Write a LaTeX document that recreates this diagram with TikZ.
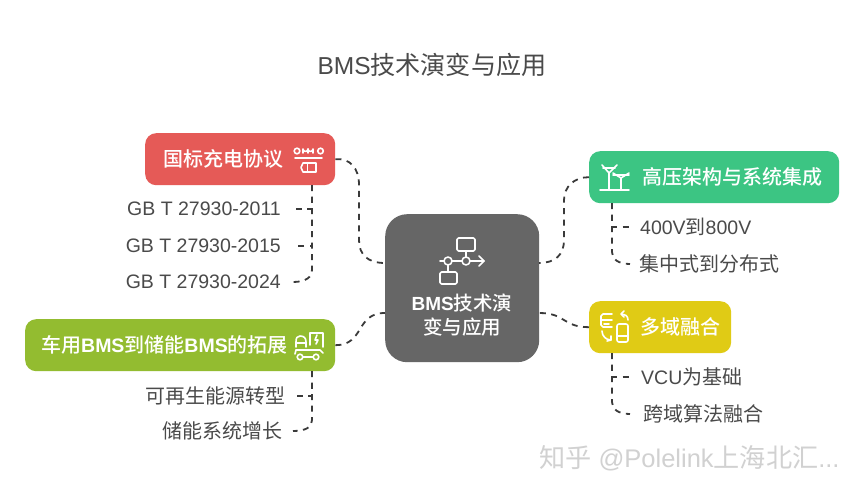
\documentclass[tikz,border=0pt]{standalone}
\usepackage{fontspec}
\setmainfont{Liberation Sans}
\newfontfamily\cjk[Scale=1.025,BoldFont={Noto Sans CJK SC Medium}]{Noto Sans CJK SC}
\usetikzlibrary{calc}
\definecolor{redbox}{HTML}{E55A57}
\definecolor{greenbox}{HTML}{3CC583}
\definecolor{yellowbox}{HTML}{E0CB15}
\definecolor{olivebox}{HTML}{93BC30}
\definecolor{greybox}{HTML}{666666}
\definecolor{inktext}{HTML}{4A4A4A}
\definecolor{inkline}{HTML}{3A3A3A}
\tikzset{
	boxstyle/.style={rectangle,rounded corners=11,anchor=north west,inner sep=0},
	boxtext/.style={text=white,font=\fontsize{19.5}{23}\selectfont\bfseries,inner sep=0},
	childstyle/.style={text=inktext,font=\fontsize{19.5}{24}\selectfont,inner sep=0},
	linkstyle/.style={draw=inkline,line width=1.8,dash pattern=on 6 off 5.5},
	iconstyle/.style={draw=white,line width=1.6,line cap=round,line join=round}
}
\begin{document}
\begin{tikzpicture}[x=1pt,y=-1pt]
	\useasboundingbox[fill=white] (0,0) rectangle (864,492);
	\node[text=inktext,font=\fontsize{24.500}{28}\selectfont,inner sep=0] (title) at (432,65) {BMS{\cjk 技术演变与应用}};
	\node[boxstyle,fill=greybox,rounded corners=22,minimum width=154,minimum height=148] (bms) at (385,214) {};
	\node[boxtext,align=center,font=\fontsize{19}{24}\selectfont\bfseries] (bmstext) at (462,315) {BMS{\cjk 技术演}\\{\cjk 变与应用}};
	\node[boxstyle,fill=redbox,minimum width=190,minimum height=52] (std) at (145,133) {};
	\node[boxtext,anchor=west] (stdtext) at (163,159) {\cjk 国标充电协议};
	\node[boxstyle,fill=olivebox,minimum width=310,minimum height=52] (ext) at (25,319) {};
	\node[boxtext,anchor=west] (exttext) at (41,345) {\cjk 车用{\rmfamily BMS}到储能{\rmfamily BMS}的拓展};
	\node[boxstyle,fill=greenbox,minimum width=250,minimum height=52] (hv) at (589,151) {};
	\node[boxtext,anchor=west] (hvtext) at (642,177) {\cjk 高压架构与系统集成};
	\node[boxstyle,fill=yellowbox,minimum width=142,minimum height=52] (dom) at (589,301) {};
	\node[boxtext,anchor=west] (domtext) at (640,327) {\cjk 多域融合};
	\node[childstyle,anchor=east,inner xsep=14] (gb1) at (295,209) {GB T 27930-2011};
	\node[childstyle,anchor=east,inner xsep=14] (gb2) at (295,246) {GB T 27930-2015};
	\node[childstyle,anchor=east,inner xsep=12] (gb3) at (293,282) {GB T 27930-2024};
	\node[childstyle,anchor=east,inner xsep=8] (re) at (294,396) {\cjk 可再生能源转型};
	\node[childstyle,anchor=east,inner xsep=10] (ess) at (293,431) {\cjk 储能系统增长};
	\node[childstyle,anchor=west,inner xsep=10] (volt) at (630,227) {400V{\cjk 到}800V};
	\node[childstyle,anchor=west,inner xsep=9] (dist) at (630,264) {\cjk 集中式到分布式};
	\node[childstyle,anchor=west,inner xsep=11] (vcu) at (630,377) {VCU{\cjk 为基础}};
	\node[childstyle,anchor=west,inner xsep=13] (algo) at (630,414) {\cjk 跨域算法融合};
	\node[text=black!18,font=\fontsize{25.500}{28}\selectfont,anchor=west,inner sep=0] (mark) at (539,458) {{\cjk 知乎} @Polelink{\cjk 上海北汇}...};
	\coordinate (bmsa) at (385,263);
	\coordinate (bmsb) at (385,313);
	\coordinate (bmsc) at (539,263);
	\coordinate (bmsd) at (539,313);
	\coordinate (stdroot) at (312,185);
	\coordinate (extroot) at (312,371);
	\coordinate (hvroot) at (612,203);
	\coordinate (domroot) at (612,353);
	\draw[linkstyle] (std.east) .. controls (350,158) and (359,168) .. (359,185) -- (359,240) .. controls (359,255) and (368,263) .. (bmsa);
	\draw[linkstyle] (ext.east) .. controls (365,345) and (355,313) .. (bmsb);
	\draw[linkstyle] (hv.west) .. controls (574,177) and (564,187) .. (564,200) -- (564,240) .. controls (564,255) and (555,263) .. (bmsc);
	\draw[linkstyle] (dom.west) .. controls (562,327) and (566,313) .. (bmsd);
	\draw[linkstyle] (stdroot) -- (312,209) -- (gb1.east);
	\draw[linkstyle] (stdroot) -- (312,246) -- (gb2.east);
	\draw[linkstyle] (stdroot) -- (312,270) .. controls (312,277) and (306,282) .. (gb3.east);
	\draw[linkstyle] (extroot) -- (312,396) -- (re.east);
	\draw[linkstyle] (extroot) -- (312,420) .. controls (312,427) and (306,431) .. (ess.east);
	\draw[linkstyle] (hvroot) -- (612,227) -- (volt.west);
	\draw[linkstyle] (hvroot) -- (612,252) .. controls (612,259) and (618,264) .. (dist.west);
	\draw[linkstyle] (domroot) -- (612,377) -- (vcu.west);
	\draw[linkstyle] (domroot) -- (612,402) .. controls (612,409) and (618,414) .. (algo.west);
	\draw[iconstyle,rounded corners=1.5] (457,238) rectangle (475,251);
	\draw[iconstyle] (466,251) -- (466,257);
	\draw[iconstyle] (466,261) circle (4);
	\draw[iconstyle] (448,261) circle (4);
	\draw[iconstyle] (440,261) -- (444,261);
	\draw[iconstyle] (452,261) -- (462,261);
	\draw[iconstyle] (470,261) -- (484,261);
	\draw[iconstyle] (479,256) -- (484,261) -- (479,266);
	\draw[iconstyle] (448,265) -- (448,272);
	\draw[iconstyle,rounded corners=1.5] (440,272) rectangle (457,284);
	\draw[iconstyle] (297,151) circle (2.8);
	\draw[iconstyle] (320.500,151) circle (2.8);
	\draw[iconstyle] (303,153) -- (303,149) arc (180:0:2.5) -- (308,153);
	\draw[iconstyle] (308,149) arc (180:0:2.5) -- (313,153);
	\draw[iconstyle] (295,158) -- (322,158);
	\draw[iconstyle] (303,163) -- (316,163) -- (316,172) -- (303,172) -- (301,167.500) -- cycle;
	\draw[iconstyle] (307.500,163) -- (307.500,172);
	\draw[iconstyle] (600,190) -- (629,190);
	\draw[iconstyle] (609,190) -- (609,173) -- (602,165);
	\draw[iconstyle] (609,173) -- (617,165);
	\draw[iconstyle] (603,168) -- (615,168);
	\draw[iconstyle] (621,190) -- (621,178) -- (613,173);
	\draw[iconstyle] (621,178) -- (629,173);
	\draw[iconstyle] (613,175) -- (629,175);
	\draw[iconstyle] (612,327) -- (603,327) -- (601,325) -- (601,316) -- (603,314) -- (612,314);
	\draw[iconstyle] (601,320) -- (612,320);
	\draw[iconstyle] (604,324) -- (609,324);
	\draw[iconstyle,rounded corners=2] (617,324) rectangle (628,342);
	\draw[iconstyle] (617,336) -- (628,336);
	\draw[iconstyle] (628,320) .. controls (628,316) and (625,314) .. (622,314);
	\draw[iconstyle] (624,311) -- (621,314) -- (624,317);
	\draw[iconstyle] (602,331) .. controls (602,336) and (606,340) .. (611,340);
	\draw[iconstyle] (607,341) -- (611,340) -- (611,336);
	\draw[iconstyle] (306,347) -- (306,342) .. controls (306,338) and (304,336) .. (300,336) .. controls (297,336) and (296,338) .. (296,342) -- (296,347);
	\draw[iconstyle] (296,343) -- (306,343);
	\draw[iconstyle] (310,345) -- (310,333) -- (323,333) -- (323,347);
	\draw[iconstyle] (317,335) -- (315,340) -- (318,340) -- (316,344);
	\draw[iconstyle] (296,350) -- (320,350) -- (323,353);
	\draw[iconstyle] (296,350) -- (295,354);
	\draw[iconstyle] (300,357) circle (2.8);
	\draw[iconstyle] (316,357) circle (2.8);
	\draw[iconstyle] (303,357) -- (313,357);
\end{tikzpicture}
\end{document}
